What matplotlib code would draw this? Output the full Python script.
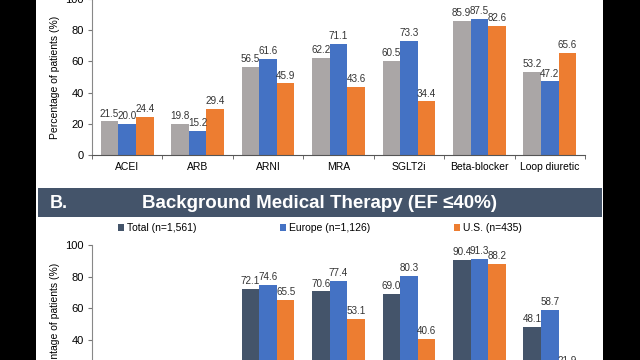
import numpy as np
import matplotlib.pyplot as plt
from matplotlib.patches import Rectangle, Patch

plt.rcParams['font.family'] = ['Liberation Sans', 'DejaVu Sans']

drugs = ['ACEI', 'ARB', 'ARNI', 'MRA', 'SGLT2i', 'Beta-blocker', 'Loop diuretic']

# panel A (upper, cut at top)
a_total = [21.5, 19.8, 56.5, 62.2, 60.5, 85.9, 53.2]
a_europe = [20.0, 15.2, 61.6, 71.1, 73.3, 87.5, 47.2]
a_us = [24.4, 29.4, 45.9, 43.6, 34.4, 82.6, 65.6]

# panel B (EF <=40%, cut at bottom); ACEI/ARB fall below the visible area
b_total = [14.0, 9.5, 72.1, 70.6, 69.0, 90.4, 48.1]
b_europe = [15.5, 8.0, 74.6, 77.4, 80.3, 91.3, 58.7]
b_us = [10.5, 12.0, 65.5, 53.1, 40.6, 88.2, 21.9]

legend_labels = ['Total (n=1,561)', 'Europe (n=1,126)', 'U.S. (n=435)']
banner_title = 'Background Medical Therapy (EF ≤40%)'

grey = '#aaa6a6'
slate = '#44546a'
blue = '#4472c4'
orange = '#ed7d31'

W, H = 640, 360
fig = plt.figure(figsize=(6.4, 3.6), dpi=100, facecolor='black')

def fx(px):
    return px / W

def fy(py):
    return 1 - py / H

# white page behind everything
fig.patches.append(Rectangle((fx(36), 0), fx(603 - 36), 1, transform=fig.transFigure,
                             facecolor='white', edgecolor='none', zorder=-5))


def draw_panel(ax, series, colors, show_xlabels):
    x = np.arange(len(drugs))
    w = 0.25
    for k, (vals, c) in enumerate(zip(series, colors)):
        xs = x + (k - 1) * w
        ax.bar(xs, vals, width=w, color=c, zorder=2)
        for xi, v in zip(xs, vals):
            ax.text(xi, v + 1.8, f'{v:.1f}', ha='center', va='bottom',
                    fontsize=7.1, color='#333333', clip_on=False)
    ax.set_xlim(-0.5, len(drugs) - 0.5)
    ax.set_ylim(0, 100)
    ax.set_yticks(range(0, 101, 20))
    ax.set_xticks(x)
    ax.set_xticklabels(drugs if show_xlabels else [''] * len(drugs), fontsize=7.5)
    ax.set_xticks(np.arange(-0.5, len(drugs), 1), minor=True)
    ax.tick_params(axis='x', which='major', length=0, pad=5)
    ax.tick_params(axis='x', which='minor', length=3, color='#555555')
    ax.tick_params(axis='y', length=3, color='#777777', labelsize=8, pad=3)
    for s in ['top', 'right']:
        ax.spines[s].set_visible(False)
    ax.spines['left'].set_color('#888888')
    ax.spines['bottom'].set_color('#555555')
    ax.set_ylabel('Percentage of patients (%)', fontsize=7.5, labelpad=4)
    ax.set_facecolor('none')


ax1 = fig.add_axes([fx(92), fy(155), fx(585 - 92), 156 / H])
draw_panel(ax1, [a_total, a_europe, a_us], [grey, blue, orange], True)

ax2 = fig.add_axes([fx(92), fy(403), fx(585 - 92), 158 / H])
draw_panel(ax2, [b_total, b_europe, b_us], [slate, blue, orange], False)

# banner
fig.patches.append(Rectangle((fx(38), fy(217)), fx(602 - 38), 29 / H, transform=fig.transFigure,
                             facecolor=slate, edgecolor='none', zorder=1))
fig.text(fx(50), fy(203), 'B.', color='white', fontsize=13, fontweight='bold',
         ha='left', va='center')
fig.text(fx(320), fy(203), banner_title, color='white', fontsize=13.5,
         fontweight='bold', ha='center', va='center')

handles = [Patch(facecolor=c, edgecolor='none') for c in [slate, blue, orange]]
fig.legend(handles, legend_labels, loc='center', bbox_to_anchor=(fx(320), fy(228)),
           ncol=3, frameon=False, fontsize=7.5, handlelength=0.6, handleheight=0.6,
           handletextpad=0.3, columnspacing=8.0, borderaxespad=0)

fig.savefig('out.png', dpi=100, facecolor=fig.get_facecolor())
